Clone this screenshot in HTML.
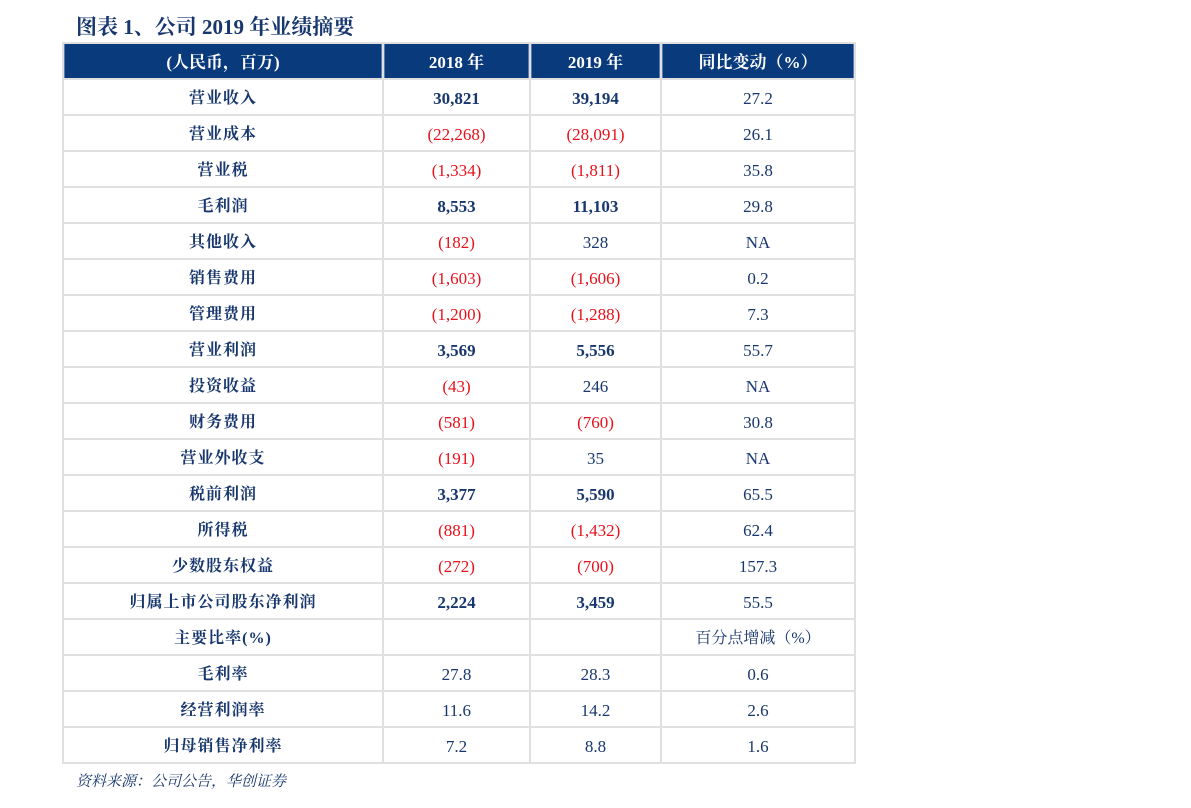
<!DOCTYPE html>
<html><head><meta charset="utf-8"><style>
body{margin:0;width:1191px;height:808px;background:#fff;position:relative;font-family:"Liberation Serif","Noto Serif CJK SC",serif;color:#17376e;}
.t{position:absolute;left:76px;top:13px;font-size:21px;line-height:28px;font-weight:bold;color:#17376e;}
table{position:absolute;left:62px;top:42px;border-collapse:collapse;}
td{border:2px solid #e0e0e0;height:31px;padding:3px 0 0 0;line-height:20px;text-align:center;font-size:17px;vertical-align:middle;}
tr.h td{background:#093a7c;color:#fff;font-weight:bold;border-color:#e0e0e0;box-shadow:inset 8px 0 0 -7px #5a7ab0,inset -8px 0 0 -7px #5a7ab0;}
td.l{font-family:"Liberation Serif","Noto Serif CJK SC",serif;font-weight:bold;font-size:16px;letter-spacing:1px;}
.b{font-weight:bold;}
.r{color:#e8101a;}
.s{position:absolute;left:76px;top:770px;font-size:15px;font-style:italic;font-family:"Liberation Serif","Noto Serif CJK SC",serif;}
</style></head><body>
<div class="t">图表 1、公司 2019 年业绩摘要</div>
<table>
<colgroup><col style="width:320px"><col style="width:147px"><col style="width:131px"><col style="width:194px"></colgroup>
<tr class="h"><td>(人民币，百万)</td><td>2018 年</td><td>2019 年</td><td>同比变动（%）</td></tr>
<tr><td class="l">营业收入</td><td class="b">30,821</td><td class="b">39,194</td><td>27.2</td></tr>
<tr><td class="l">营业成本</td><td class="r">(22,268)</td><td class="r">(28,091)</td><td>26.1</td></tr>
<tr><td class="l">营业税</td><td class="r">(1,334)</td><td class="r">(1,811)</td><td>35.8</td></tr>
<tr><td class="l">毛利润</td><td class="b">8,553</td><td class="b">11,103</td><td>29.8</td></tr>
<tr><td class="l">其他收入</td><td class="r">(182)</td><td>328</td><td>NA</td></tr>
<tr><td class="l">销售费用</td><td class="r">(1,603)</td><td class="r">(1,606)</td><td>0.2</td></tr>
<tr><td class="l">管理费用</td><td class="r">(1,200)</td><td class="r">(1,288)</td><td>7.3</td></tr>
<tr><td class="l">营业利润</td><td class="b">3,569</td><td class="b">5,556</td><td>55.7</td></tr>
<tr><td class="l">投资收益</td><td class="r">(43)</td><td>246</td><td>NA</td></tr>
<tr><td class="l">财务费用</td><td class="r">(581)</td><td class="r">(760)</td><td>30.8</td></tr>
<tr><td class="l">营业外收支</td><td class="r">(191)</td><td>35</td><td>NA</td></tr>
<tr><td class="l">税前利润</td><td class="b">3,377</td><td class="b">5,590</td><td>65.5</td></tr>
<tr><td class="l">所得税</td><td class="r">(881)</td><td class="r">(1,432)</td><td>62.4</td></tr>
<tr><td class="l">少数股东权益</td><td class="r">(272)</td><td class="r">(700)</td><td>157.3</td></tr>
<tr><td class="l">归属上市公司股东净利润</td><td class="b">2,224</td><td class="b">3,459</td><td>55.5</td></tr>
<tr><td class="l">主要比率(%)</td><td></td><td></td><td style="font-size:16px">百分点增减（%）</td></tr>
<tr><td class="l">毛利率</td><td>27.8</td><td>28.3</td><td>0.6</td></tr>
<tr><td class="l">经营利润率</td><td>11.6</td><td>14.2</td><td>2.6</td></tr>
<tr><td class="l">归母销售净利率</td><td>7.2</td><td>8.8</td><td>1.6</td></tr>
</table>
<div class="s">资料来源：公司公告，华创证券</div>
</body></html>
